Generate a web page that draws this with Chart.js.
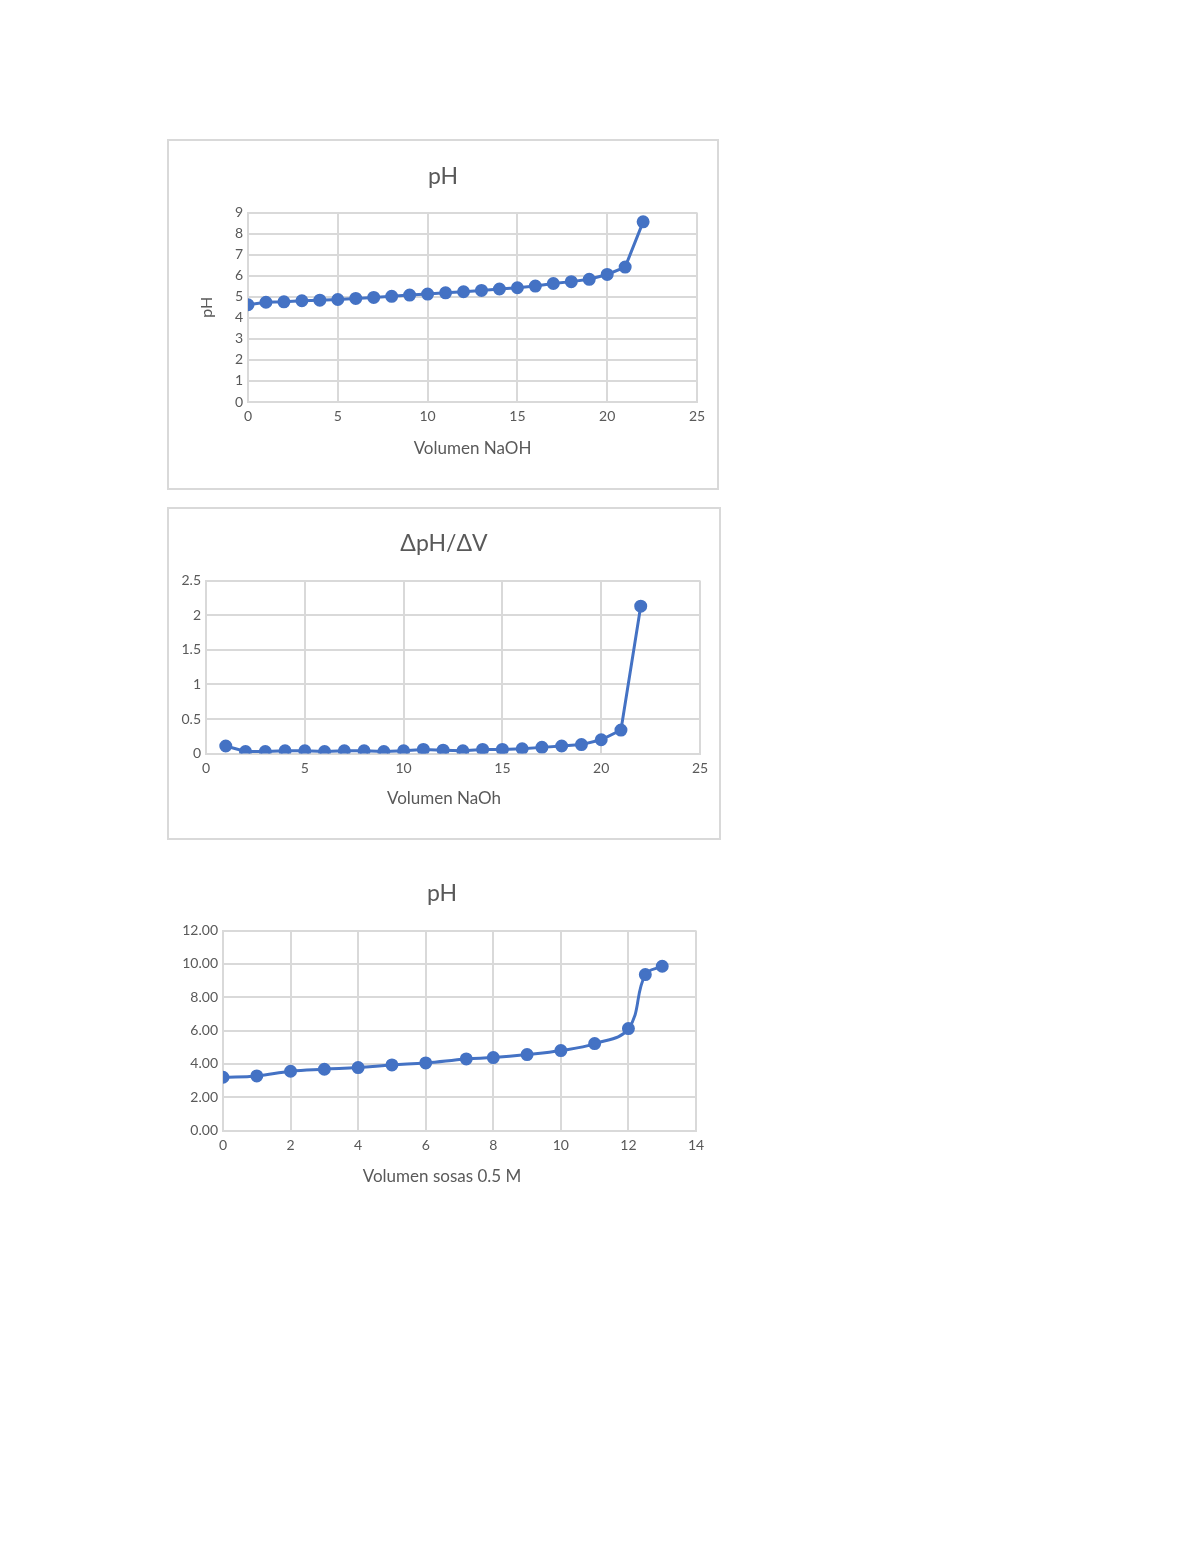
<!DOCTYPE html>
<html>
<head>
<meta charset="utf-8">
<script src="https://cdn.jsdelivr.net/npm/chart.js@4.4.0/dist/chart.umd.min.js"></script>
<style>
  body { margin: 0; background: #fff; }
  .box { position: absolute; box-sizing: border-box; border: 2px solid #d9d9d9; }
  canvas { position: absolute; }
</style>
</head>
<body>
<div class="box" style="left:167px;top:139px;width:552px;height:351px"></div>
<div class="box" style="left:167px;top:507px;width:554px;height:333px"></div>
<canvas id="c1" width="552" height="351" style="left:167px;top:139px"></canvas>
<canvas id="c2" width="554" height="333" style="left:167px;top:507px"></canvas>
<canvas id="c3" width="550" height="330" style="left:167px;top:870px"></canvas>
<script>
// valoración 1: pH vs volumen NaOH
const vol1 = [0, 1, 2, 3, 4, 5, 6, 7, 8, 9, 10, 11, 12, 13, 14, 15, 16, 17, 18, 19, 20, 21, 22];
const ph1 = [4.62, 4.74, 4.76, 4.81, 4.84, 4.87, 4.92, 4.97, 5.02, 5.08, 5.13, 5.19, 5.24, 5.30, 5.37, 5.43, 5.51, 5.63, 5.72, 5.83, 6.06, 6.41, 8.56];

// derivada dpH/dV
const vol2 = [1, 2, 3, 4, 5, 6, 7, 8, 9, 10, 11, 12, 13, 14, 15, 16, 17, 18, 19, 20, 21, 22];
const dph = [0.11, 0.03, 0.03, 0.04, 0.04, 0.03, 0.04, 0.04, 0.03, 0.04, 0.06, 0.05, 0.04, 0.06, 0.06, 0.07, 0.09, 0.11, 0.13, 0.20, 0.34, 2.13];

// valoración 2: sosa 0.5 M
const vol3 = [0, 1, 2, 3, 4, 5, 6, 7.2, 8, 9, 10, 11, 12, 12.5, 13];
const ph3 = [3.20, 3.28, 3.56, 3.68, 3.78, 3.94, 4.06, 4.30, 4.38, 4.56, 4.80, 5.22, 6.12, 9.36, 9.86];

const azul = '#4472C4';
const gris = '#595959';
const rejilla = '#d9d9d9';
const fuente = 'Lato, Carlito, "Open Sans", sans-serif';

function pts(xs, ys) {
  return xs.map((x, i) => ({ x: x, y: ys[i] }));
}

// cfg.xEnEje: título del eje X en la escala; si no, va como subtítulo abajo (centrado en el cuadro)
// el eje "derecha" es vacío, solo reserva el margen derecho para que el título quede centrado
function grafico(id, cfg) {
  const fuenteEje = { family: fuente, size: 17, lineHeight: 1.2 };
  return new Chart(document.getElementById(id), {
    type: 'line',
    data: {
      datasets: [{
        data: pts(cfg.xs, cfg.ys),
        borderColor: azul,
        backgroundColor: azul,
        borderWidth: 3,
        pointRadius: 5,
        pointHoverRadius: 5,
        tension: cfg.tension || 0
      }]
    },
    options: {
      responsive: false,
      animation: false,
      devicePixelRatio: 1,
      layout: { padding: 0 },
      plugins: {
        legend: { display: false },
        tooltip: { enabled: false },
        title: {
          display: true,
          text: cfg.title,
          color: gris,
          font: { family: fuente, size: 23, weight: 'normal', lineHeight: 1.2 },
          padding: { top: cfg.titleTop, bottom: cfg.titleBottom }
        },
        subtitle: {
          display: !cfg.xEnEje,
          position: 'bottom',
          text: cfg.xTitle,
          color: gris,
          font: fuenteEje,
          padding: { top: 5, bottom: cfg.xTitleBottom }
        }
      },
      scales: {
        x: {
          type: 'linear',
          min: 0, max: cfg.xMax,
          ticks: { stepSize: cfg.xStep, color: gris, font: { family: fuente, size: 14 }, padding: 6 },
          grid: { color: rejilla, lineWidth: 2, drawTicks: false },
          border: { color: rejilla, width: 2 },
          title: {
            display: !!cfg.xEnEje, text: cfg.xTitle, color: gris,
            font: fuenteEje,
            padding: { top: 0, bottom: cfg.xTitleBottom }
          },
          afterFit: s => { s.height = cfg.xHeight; }
        },
        y: {
          min: 0, max: cfg.yMax,
          ticks: {
            stepSize: cfg.yStep, color: gris, font: { family: fuente, size: 14 }, padding: 5,
            callback: v => cfg.yDec ? v.toFixed(cfg.yDec) : v
          },
          grid: { color: rejilla, lineWidth: 2, drawTicks: false },
          border: { color: rejilla, width: 2 },
          title: {
            display: !!cfg.yTitle, text: cfg.yTitle || '', color: gris,
            font: { family: fuente, size: 16, lineHeight: 1.2 },
            padding: { top: 30, bottom: 0 }
          },
          afterFit: s => { s.width = cfg.yWidth; }
        },
        derecha: {
          type: 'linear',
          position: 'right',
          grid: { display: false },
          ticks: { display: false },
          border: { display: false },
          afterFit: s => { s.width = cfg.rightW; }
        }
      }
    }
  });
}

grafico('c1', {
  xs: vol1, ys: ph1, title: 'pH', xTitle: 'Volumen NaOH', yTitle: 'pH', xEnEje: true,
  xMax: 25, xStep: 5, yMax: 9, yStep: 1,
  yWidth: 81, rightW: 22,
  titleTop: 24, titleBottom: 22, xHeight: 88, xTitleBottom: 31
});

grafico('c2', {
  xs: vol2, ys: dph, title: 'ΔpH/ΔV', xTitle: 'Volumen NaOh',
  xMax: 25, xStep: 5, yMax: 2.5, yStep: 0.5,
  yWidth: 39, rightW: 21,
  titleTop: 23, titleBottom: 23, xHeight: 30, xTitleBottom: 31
});

grafico('c3', {
  xs: vol3, ys: ph3, title: 'pH', xTitle: 'Volumen sosas 0.5 M', tension: 0.4,
  xMax: 14, xStep: 2, yMax: 12, yStep: 2, yDec: 2,
  yWidth: 56, rightW: 21,
  titleTop: 10, titleBottom: 23, xHeight: 31, xTitleBottom: 13
});
</script>
</body>
</html>
